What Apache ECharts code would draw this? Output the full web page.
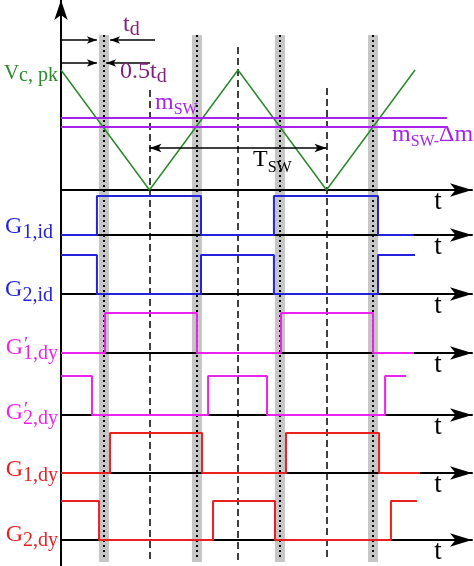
<!DOCTYPE html>
<html><head><meta charset="utf-8">
<script src="https://cdn.jsdelivr.net/npm/echarts@6/dist/echarts.min.js"></script>
<style>html,body{margin:0;padding:0;background:#fff}#c{width:474px;height:566px}</style>
</head><body><div id="c"></div>
<script>
// ---------------- data (time in switching periods, levels 0/1) ----------------
const triT = [0, 0.5, 1, 1.5, 2];          // carrier vertices
const triV = [1, 0, 1, 0, 1];              // carrier value (Vc,pk = 1)
const mSw = 0.6;                           // modulation level
const mSwDm = 0.525;                       // modulation minus delta m
const mLineEnd = 2.18;
const bandT = [0.243, 0.768, 1.237, 1.763]; // switching instants (gray bands)
const dashT = [0.5, 1, 1.5];
const g1idT = [0, 0.203, 0.791, 1.203, 1.791, 1.994];
const g1idV = [0, 1, 0, 1, 0, 0];
const g2idT = [0, 0.203, 0.791, 1.203, 1.791, 2.0];
const g2idV = [1, 0, 1, 0, 1, 1];
const g1pT  = [0, 0.249, 0.768, 1.243, 1.763, 1.994];
const g1pV  = [0, 1, 0, 1, 0, 0];
const g2pT  = [0, 0.175, 0.831, 1.164, 1.831, 1.949];
const g2pV  = [1, 0, 1, 0, 1, 1];
const g1dyT = [0, 0.277, 0.797, 1.271, 1.797, 2.028];
const g1dyV = [0, 1, 0, 1, 0, 0];
const g2dyT = [0, 0.215, 0.859, 1.209, 1.864, 2.011];
const g2dyV = [1, 0, 1, 0, 1, 1];
const axisLabel = 't';

// ---------------- layout / style ----------------
const GREEN = '#2a8a2a', BLUE = '#2323dd', MAG = '#ee22ee', RED = '#e82020',
      VIOLET = '#a822ee', PURPLE = '#85207f';
const FONT = '"Liberation Serif","Times New Roman",serif';
const GL = 61, GW = 411, PX_T = 177, XMAX = GW / PX_T;
const V0 = 190, VS = 120, OT = 0, OB = 566;
const vOf = y => (V0 - y) / VS;
const vMax = vOf(OT), vMin = vOf(OB);
const BH = 5 / PX_T;

const rows = [
  {t: g1idT, v: g1idV, c: BLUE, top: 196, base: 235, sub: '1,id', prime: false, lb: 235, lr: 53},
  {t: g2idT, v: g2idV, c: BLUE, top: 255, base: 294, sub: '2,id', prime: false, lb: 298, lr: 53},
  {t: g1pT,  v: g1pV,  c: MAG,  top: 313, base: 353, sub: '1,dy', prime: true,  lb: 356, lr: 58},
  {t: g2pT,  v: g2pV,  c: MAG,  top: 376, base: 415, sub: '2,dy', prime: true,  lb: 421, lr: 58},
  {t: g1dyT, v: g1dyV, c: RED,  top: 433, base: 473, sub: '1,dy', prime: false, lb: 478, lr: 58},
  {t: g2dyT, v: g2dyV, c: RED,  top: 501, base: 540, sub: '2,dy', prime: false, lb: 543, lr: 58}
];

const mctx = document.createElement('canvas').getContext('2d');
function tw(s, size) { mctx.font = size + 'px ' + FONT; return mctx.measureText(s).width; }
function label(parts, x, align, color) {
  const total = parts.reduce((a, p) => a + (p.over ? 0 : tw(p.s, p.size)), 0);
  let cx = align === 'right' ? x - total : (align === 'center' ? x - total / 2 : x);
  const out = [];
  parts.forEach(p => {
    out.push({
      type: 'text', x: cx + (p.dx || 0), y: p.base - 0.34 * p.size, z: 20,
      style: {text: p.s, fill: p.color || color, font: p.size + 'px ' + FONT,
              textAlign: 'left', textVerticalAlign: 'middle', verticalAlign: 'middle'}
    });
    if (!p.over) cx += tw(p.s, p.size);
  });
  return out;
}

const axisLineStyle = {color: '#000', width: 2};
const grids = [{left: GL, width: GW, top: OT, height: OB - OT, outerBoundsMode: 'none', containLabel: false}];
const xAxes = [], yAxes = [];
function xAx(i) {
  return {type: 'value', gridIndex: i, min: 0, max: XMAX, z: 3,
    axisLine: {show: true, onZero: true, symbol: ['none', 'arrow'], symbolSize: [10, 22], lineStyle: axisLineStyle},
    axisTick: {show: false}, axisLabel: {show: false}, splitLine: {show: false}};
}
xAxes.push(xAx(0));
yAxes.push({type: 'value', gridIndex: 0, min: vMin, max: vMax, z: 3,
  axisLine: {show: true, onZero: true, symbol: ['none', 'arrow'], symbolSize: [10, 20], lineStyle: axisLineStyle},
  axisTick: {show: false}, axisLabel: {show: false}, splitLine: {show: false}});

const series = [];
// bands, dotted and dashed guide lines
const bandTop = vOf(35), bandBot = vOf(562), dotBot = vOf(560);
const dashTops = [vOf(90), vOf(47), vOf(88)];
series.push({
  type: 'line', xAxisIndex: 0, yAxisIndex: 0, data: [], z: 1, silent: true,
  markArea: {silent: true, z: 1, itemStyle: {color: '#c6c6c6'},
    data: bandT.map(t => [{coord: [t - BH, bandTop]}, {coord: [t + BH, bandBot]}])},
  markLine: {silent: true, z: 2, symbol: ['none', 'none'], label: {show: false},
    lineStyle: {color: '#000', width: 2, type: [2, 3]},
    data: bandT.map(t => [{coord: [t, bandTop]}, {coord: [t, dotBot]}]).concat(
      dashT.map((t, i) => [{coord: [t, dashTops[i]], lineStyle: {type: [7, 4], width: 1.5, color: '#000'}},
                          {coord: [t, dotBot]}]))}
});
// carrier and modulation lines
series.push({type: 'line', xAxisIndex: 0, yAxisIndex: 0, z: 5, clip: false, showSymbol: false, silent: true,
  data: triT.map((t, i) => [t, triV[i]]), lineStyle: {color: GREEN, width: 1.5}});
series.push({type: 'line', xAxisIndex: 0, yAxisIndex: 0, z: 5, clip: false, showSymbol: false, silent: true,
  data: [[0, mSw], [mLineEnd, mSw]], lineStyle: {color: VIOLET, width: 2}});
series.push({type: 'line', xAxisIndex: 0, yAxisIndex: 0, z: 5, clip: false, showSymbol: false, silent: true,
  data: [[0, mSwDm], [mLineEnd, mSwDm]], lineStyle: {color: VIOLET, width: 2}});
// annotation arrows (tip at the end coordinate)
function arr(tFrom, tTo, v, both, size) {
  return [{coord: [tFrom, v], symbol: both ? 'arrow' : 'none', symbolSize: size},
          {coord: [tTo, v], symbol: 'arrow', symbolSize: size}];
}
const sm = [5.5, 10];
series.push({type: 'line', xAxisIndex: 0, yAxisIndex: 0, data: [], z: 6, silent: true,
  markLine: {silent: true, z: 6, label: {show: false}, lineStyle: {color: '#000', width: 1.5, type: 'solid'},
    data: [
      arr(0, bandT[0] - BH - 0.012, vOf(40), false, sm),
      arr(0.531, bandT[0] + BH + 0.006, vOf(40), false, sm),
      arr(0, bandT[0] - BH - 0.012, vOf(63), false, sm),
      arr(0.503, bandT[0] + 0.012, vOf(63), false, sm),
      arr(dashT[0], dashT[2], vOf(148), true, [6.5, 12])
    ]}});

// signal rows
rows.forEach((r, k) => {
  const gi = k + 1;
  grids.push({left: GL, width: GW, top: r.top, height: r.base - r.top, outerBoundsMode: 'none', containLabel: false});
  xAxes.push(xAx(gi));
  yAxes.push({type: 'value', gridIndex: gi, min: 0, max: 1, show: false});
  series.push({type: 'line', xAxisIndex: gi, yAxisIndex: gi, step: 'end', z: 5, clip: false,
    showSymbol: false, silent: true, data: r.t.map((t, i) => [t, r.v[i]]),
    lineStyle: {color: r.c, width: 2}});
});

// text
let g = [];
g = g.concat(label([{s: 'V', size: 21, base: 81}, {s: 'c, pk', size: 20, base: 83}], 58, 'right', GREEN));
rows.forEach(r => {
  const parts = [{s: 'G', size: 24, base: r.lb}];
  if (r.prime) parts.push({s: '\u2032', size: 19, base: r.lb - 5, over: true, dx: 1});
  parts.push({s: r.sub, size: 20, base: r.lb + 5});
  g = g.concat(label(parts, r.lr, 'right', r.c));
});
[190].concat(rows.map(r => r.base)).forEach(b => {
  g = g.concat(label([{s: axisLabel, size: 27, base: b + 21}], 438, 'center', '#000'));
});
g = g.concat(label([{s: 't', size: 24, base: 33}, {s: 'd', size: 20, base: 37}], 123, 'left', PURPLE));
g = g.concat(label([{s: '0.5t', size: 24, base: 80}, {s: 'd', size: 20, base: 84}], 120, 'left', PURPLE));
g = g.concat(label([{s: 'm', size: 24, base: 111}, {s: 'SW', size: 16, base: 115}], 155, 'left', VIOLET));
g = g.concat(label([{s: 'm', size: 24, base: 143}, {s: 'SW-', size: 16, base: 147}, {s: '\u0394m', size: 24, base: 143}], 392, 'left', VIOLET));
g = g.concat(label([{s: 'T', size: 24, base: 168}, {s: 'SW', size: 16, base: 173}], 253, 'left', '#000'));

const chart = echarts.init(document.getElementById('c'), null, {renderer: 'canvas'});
chart.setOption({
  animation: false, backgroundColor: '#fff',
  grid: grids, xAxis: xAxes, yAxis: yAxes, series: series,
  graphic: {elements: g}
});
</script></body></html>
